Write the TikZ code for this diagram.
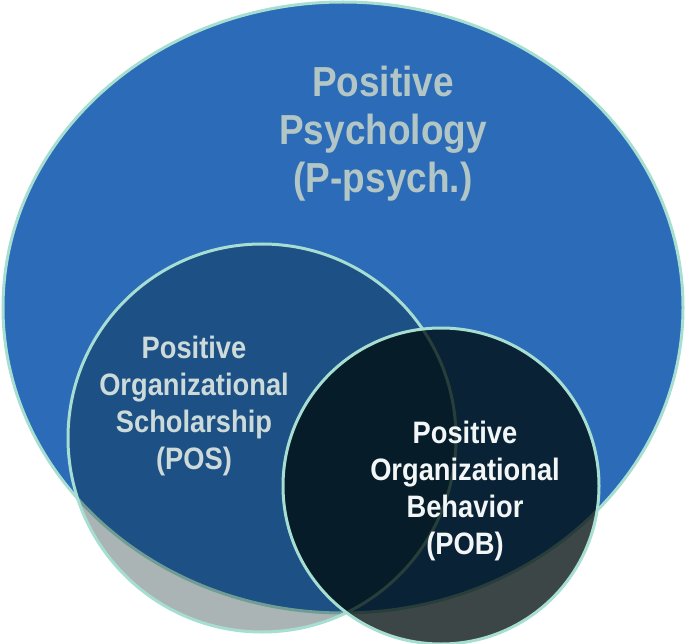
\documentclass[tikz,border=0pt]{standalone}
\usepackage{fontspec}
\setmainfont{Liberation Sans}[FakeStretch=0.88]
\definecolor{bigblue}{HTML}{2C6BB8}
\definecolor{rim}{HTML}{A6DED2}
\definecolor{posshade}{HTML}{001B1B}
\definecolor{pobshade}{HTML}{000C0C}
\definecolor{bigtext}{HTML}{B2C6C6}
\definecolor{postext}{HTML}{CCDADA}
\definecolor{pobtext}{HTML}{F2F6F6}
\tikzset{
  rimline/.style={draw=rim, line width=3pt},
  label/.style={align=center, inner sep=0pt, font=\bfseries},
}
\begin{document}
\begin{tikzpicture}[x=1pt,y=-1pt]
\useasboundingbox (0,0) rectangle (685,644);
% Positive Psychology (big ellipse)
\path[fill=bigblue, rimline] (343,307.5) ellipse [x radius=340, y radius=305.5];
% POS circle
\path[fill=posshade, fill opacity=0.33] (262,438) circle [radius=194];
\path[rimline] (262,438) circle [radius=194];
% POB circle
\path[fill=pobshade, fill opacity=0.76] (441,486) circle [radius=158];
\path[rimline] (441,486) circle [radius=158];
% labels
\node[label, text=bigtext, font=\bfseries\fontsize{42}{48}\selectfont] (pp) at (383,134)
  {Positive\\Psychology\\(P-psych.)};
\node[label, text=postext, font=\bfseries\fontsize{31}{37.3}\selectfont] (pos) at (194,406)
  {Positive\\Organizational\\Scholarship\\(POS)};
\node[label, text=pobtext, font=\bfseries\fontsize{31}{37}\selectfont] (pob) at (465,490.5)
  {Positive\\Organizational\\Behavior\\(POB)};
\end{tikzpicture}
\end{document}
